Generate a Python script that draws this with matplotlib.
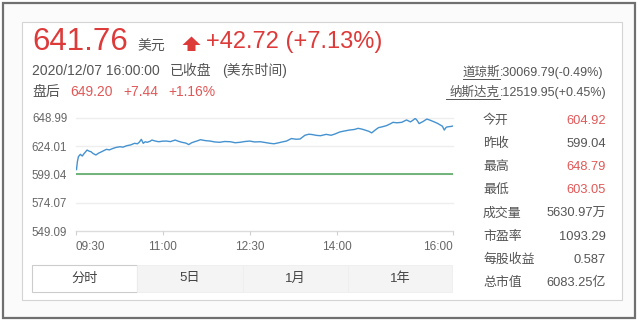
import matplotlib
matplotlib.use('Agg')
import matplotlib.pyplot as plt
from matplotlib.patches import Rectangle, Polygon
from matplotlib.lines import Line2D

W, H = 640, 322
FONT = ['Liberation Sans', 'Noto Sans CJK SC', 'DejaVu Sans']
RED = '#dd3a3a'
RED2 = '#e05858'
GRAY = '#555555'

# intraday trace: minutes after 09:30 and price
minutes = [0, 1, 2, 3, 5, 7, 9, 12, 14, 16, 18, 21, 24, 27, 30, 32, 35, 39, 42, 46,
           49, 53, 57, 61, 64, 66, 68, 70, 72, 74, 77, 79, 82, 86, 90, 94, 98, 103,
           106, 110, 114, 117, 120, 123, 126, 129, 134, 139, 144, 149, 154, 160, 165,
           170, 175, 180, 185, 191, 196, 201, 205, 209, 214, 218, 223, 228, 232, 237,
           241, 244, 249, 253, 259, 264, 268, 273, 278, 283, 288, 292, 296, 299, 303,
           306, 310, 313, 317, 321, 325, 328, 332, 337, 342, 346, 349, 351, 353, 355,
           359, 363, 366, 370, 374, 377, 379, 381, 383, 385, 388, 390]
prices = [604.9, 603.1, 610.5, 614.6, 616.7, 615.2, 617.5, 620.5, 619.5, 619.0, 617.5,
          616.1, 617.8, 619.0, 620.3, 621.1, 620.6, 622.0, 622.8, 623.4, 623.0, 624.3,
          625.0, 626.4, 626.0, 627.5, 629.9, 626.4, 627.8, 627.3, 628.2, 629.3, 628.5,
          627.8, 628.3, 628.4, 627.9, 629.3, 628.3, 627.3, 626.6, 625.3, 626.9, 627.8,
          628.6, 629.6, 628.8, 628.4, 627.6, 627.3, 628.0, 627.8, 626.9, 627.3, 628.0,
          628.4, 627.6, 627.8, 627.1, 626.4, 626.0, 626.7, 627.7, 628.4, 630.6, 630.0,
          630.2, 633.5, 634.4, 634.2, 633.4, 633.1, 634.3, 633.5, 634.6, 636.4, 637.3,
          638.1, 638.6, 639.6, 638.9, 638.1, 637.0, 635.6, 638.4, 640.2, 641.0, 641.9,
          643.5, 644.9, 644.5, 644.9, 647.0, 645.3, 647.0, 648.4, 646.5, 643.8, 645.6,
          647.8, 646.9, 645.5, 644.0, 642.5, 641.5, 638.1, 640.6, 641.0, 641.3, 641.7]
prev_close = 599.04
y_ticks = [549.09, 574.07, 599.04, 624.01, 648.99]
x_ticks = [0, 90, 180, 270, 390]
x_labels = ['09:30', '11:00', '12:30', '14:00', '16:00']

stat_names = ['今开', '昨收', '最高', '最低', '成交量', '市盈率', '每股收益', '总市值']
stat_values = ['604.92', '599.04', '648.79', '603.05', '5630.97万', '1093.29', '0.587', '6083.25亿']
stat_red = [True, False, True, True, False, False, False, False]
tabs = ['分时', '5日', '1月', '1年']


def fx(x):
    return x / W


def fy(y):
    return 1 - y / H


def text(x, y, s, size, color, ha='left', **kw):
    fig.text(fx(x), fy(y), s, fontsize=size, color=color, ha=ha, va='center',
             family=FONT, **kw)


def rect(x0, y0, x1, y1, **kw):
    fig.add_artist(Rectangle((fx(x0), fy(y1)), (x1 - x0) / W, (y1 - y0) / H,
                             transform=fig.transFigure, zorder=-5, **kw))


def hline(x0, x1, y, color, lw=0.8):
    fig.add_artist(Line2D([fx(x0), fx(x1)], [fy(y), fy(y)], transform=fig.transFigure,
                          color=color, lw=lw))


fig = plt.figure(figsize=(6.4, 3.22), dpi=100, facecolor='white')

# frame and card
rect(3, 3, 635, 318, facecolor='#fbfbfb', edgecolor='#707070', lw=1.6)
rect(22, 22, 622, 300, facecolor='white', edgecolor='#d4d4d4', lw=0.8)

# header
text(32, 42, '641.76', 22.5, RED)
text(137, 46.5, '美元', 10, GRAY)
fig.add_artist(Polygon([(fx(x), fy(y)) for x, y in
                        [(182.5, 45), (191.5, 36.5), (200.5, 45), (195.5, 45), (195.5, 51),
                         (187.5, 51), (187.5, 45)]],
                       closed=True, transform=fig.transFigure, color=RED, lw=0))
text(206, 42, '+42.72 (+7.13%)', 17, RED)

text(32, 71, '2020/12/07 16:00:00', 10, GRAY)
text(170, 71, '已收盘', 10, GRAY)
text(222, 71, '(美东时间)', 10, GRAY)
text(32, 92, '盘后', 10, GRAY)
text(70, 92, '649.20', 10, RED2)
text(123, 92, '+7.44', 10, RED2)
text(168, 92, '+1.16%', 10, RED2)

text(500, 73, '道琼斯', 9, GRAY, ha='right')
text(500, 73, ':30069.79(-0.49%)', 9, GRAY)
hline(463, 500, 79, GRAY, 0.7)
text(500, 92.5, '纳斯达克', 9, GRAY, ha='right')
text(500, 92.5, ':12519.95(+0.45%)', 9, GRAY)
hline(446, 500, 98.5, GRAY, 0.7)

# stats panel
for i, (name, val, red) in enumerate(zip(stat_names, stat_values, stat_red)):
    y = 121 + i * 23.1
    text(483, y, name, 9.3, GRAY)
    text(606, y, val, 9.3, RED2 if red else GRAY, ha='right')

# tabs
tab_x = [32, 137, 243, 348, 452]
for i, label in enumerate(tabs):
    if i == 0:
        rect(tab_x[i], 265, tab_x[i + 1], 292, facecolor='white', edgecolor='#cccccc', lw=0.8)
    else:
        rect(tab_x[i], 265, tab_x[i + 1], 292, facecolor='#f4f4f4', edgecolor='#eeeeee', lw=0.6)
    text((tab_x[i] + tab_x[i + 1]) / 2, 278.5, label, 9.5, '#444444', ha='center')

# chart
ax = fig.add_axes([fx(75.5), fy(231), (453 - 75.5) / W, (231 - 117.7) / H])
ax.patch.set_alpha(0)
for s in ax.spines.values():
    s.set_visible(False)
for v in y_ticks:
    ax.axhline(v, color='#dcdcdc' if v == y_ticks[0] else '#eeeeee', lw=1, zorder=1,
               clip_on=False)
ax.axhline(prev_close, color='#5aa866', lw=1.2, zorder=2)
ax.plot(minutes, prices, color='#4592d0', lw=1.0, zorder=3)
ax.set_xlim(0, 390)
ax.set_ylim(y_ticks[0], y_ticks[-1])
ax.set_yticks(y_ticks)
ax.set_yticklabels(['%.2f' % v for v in y_ticks])
ax.set_xticks(x_ticks)
ax.set_xticklabels(x_labels)
ax.tick_params(axis='y', length=0, pad=6, labelsize=8.3, labelcolor='#666666')
ax.tick_params(axis='x', length=3, color='#d0d0d0', pad=4, labelsize=8.5,
               labelcolor='#666666')
for lbl in ax.get_xticklabels() + ax.get_yticklabels():
    lbl.set_family(FONT)
xl = ax.get_xticklabels()
xl[0].set_ha('left')
xl[-1].set_ha('right')

fig.savefig('out.png', dpi=100, facecolor='white')
